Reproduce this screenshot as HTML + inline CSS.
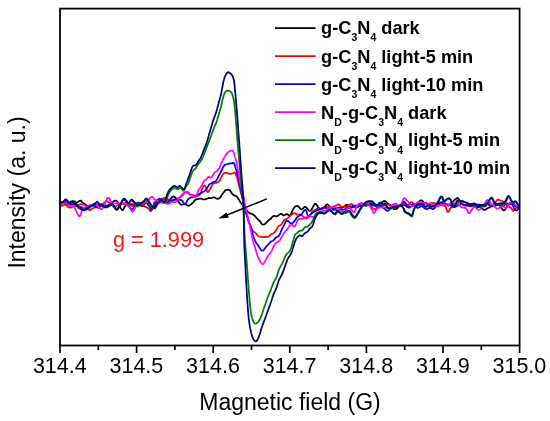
<!DOCTYPE html>
<html><head><meta charset="utf-8"><title>EPR spectra</title>
<style>
html,body{margin:0;padding:0;background:#fff;}
svg{display:block;font-family:"Liberation Sans",Arial,sans-serif;}
.ax text{font-size:21.5px;fill:#000;}
.lg{font-size:18.2px;font-weight:bold;fill:#000;}
.sb{font-size:10.5px;}
.cv path{fill:none;stroke-width:1.75;stroke-linejoin:round;stroke-linecap:round;}
</style></head><body>
<svg width="550" height="421" viewBox="0 0 550 421">
<rect width="550" height="421" fill="#fff"/>
<g class="cv">
<path d="M60.0,205.2L60.4,204.5L60.9,203.7L61.6,202.9L62.3,202.4L63.0,202.2L63.7,202.5L64.5,203.1L65.4,203.8L66.2,204.5L67.0,204.8L67.8,204.6L68.6,204.0L69.4,203.2L70.2,202.3L71.0,201.7L71.9,201.4L72.8,201.2L73.6,201.2L74.4,201.3L75.2,201.8L76.0,202.2L76.7,202.5L77.5,202.3L78.3,201.7L79.2,201.1L80.0,200.7L80.7,200.7L81.3,201.1L81.8,201.7L82.3,202.3L83.0,202.9L83.7,203.3L84.5,203.9L85.3,204.4L86.2,205.1L87.0,205.8L87.8,206.3L88.6,206.6L89.4,206.6L90.2,206.3L91.0,205.9L91.8,205.3L92.6,204.6L93.4,204.0L94.2,203.8L95.0,204.2L95.8,204.9L96.6,205.7L97.4,206.1L98.2,206.0L99.0,205.7L99.8,205.3L100.6,204.9L101.4,204.7L102.2,204.6L103.0,204.8L103.8,205.2L104.6,205.7L105.4,206.1L106.2,206.3L107.0,206.2L107.8,205.8L108.6,205.3L109.4,204.7L110.2,204.0L111.0,203.4L111.7,202.8L112.5,202.2L113.3,201.6L114.1,201.1L114.8,200.7L115.5,200.6L116.1,200.7L116.7,201.1L117.3,201.8L117.9,202.7L118.4,203.6L119.0,204.5L119.6,205.5L120.1,206.6L120.6,207.8L121.2,208.9L121.7,209.7L122.3,210.1L122.9,209.9L123.5,209.1L124.1,207.9L124.7,206.7L125.4,205.6L126.0,205.1L126.8,204.9L127.6,204.9L128.4,204.8L129.2,204.6L130.0,204.4L130.8,204.3L131.6,204.2L132.4,204.4L133.2,204.6L134.0,204.8L134.8,204.9L135.6,204.6L136.4,203.8L137.2,203.0L138.0,202.6L138.8,202.8L139.6,203.7L140.4,204.8L141.2,205.7L142.0,206.2L142.8,206.1L143.6,205.4L144.4,204.3L145.2,203.2L146.0,202.6L146.8,203.0L147.6,204.0L148.3,205.2L149.1,206.0L150.0,206.2L150.8,206.0L151.6,206.0L152.5,206.1L153.3,206.4L154.2,206.4L155.0,206.1L155.7,205.5L156.3,204.8L157.0,204.0L157.6,203.2L158.3,202.4L158.9,201.7L159.6,200.9L160.5,199.9L161.5,199.1L162.4,198.7L163.4,198.7L164.3,198.8L165.2,199.0L166.2,199.3L167.1,199.6L168.1,199.9L169.0,200.0L169.8,199.6L170.5,198.9L171.3,198.0L172.1,197.2L172.8,196.6L173.5,196.4L174.3,196.7L175.1,197.3L175.9,198.2L176.7,199.2L177.4,200.1L178.1,201.0L178.7,201.9L179.2,202.8L179.8,203.6L180.5,204.2L181.4,204.6L182.3,204.6L183.3,204.3L184.3,204.0L185.2,204.1L186.2,204.6L187.1,205.3L188.1,205.7L189.0,205.6L189.8,205.2L190.6,204.6L191.4,204.1L192.1,203.5L192.8,202.9L193.4,202.2L194.0,201.5L194.5,200.7L195.1,200.1L195.9,199.6L196.7,199.4L197.6,199.2L198.5,199.0L199.5,198.7L200.4,198.5L201.3,198.6L202.3,199.0L203.3,199.4L204.2,199.5L205.1,199.4L205.9,199.2L206.8,198.8L207.5,198.5L208.2,198.2L209.0,198.1L209.8,198.2L210.7,198.2L211.6,198.0L212.4,197.7L213.2,197.4L214.2,197.4L215.1,197.8L216.0,198.3L216.9,198.7L217.9,198.8L218.9,198.5L219.7,198.0L220.4,197.3L220.9,196.4L221.4,195.5L222.0,194.6L222.7,193.7L223.4,192.8L224.0,191.9L224.6,191.3L225.2,190.4L226.0,190.0L226.7,189.8L227.6,189.7L228.6,189.8L229.5,190.1L230.0,190.6L230.6,191.3L231.1,192.0L231.6,192.9L232.2,193.7L232.8,194.4L233.5,195.0L234.3,195.4L235.2,195.8L236.1,196.1L236.9,196.7L237.7,197.7L238.3,198.7L239.0,199.8L239.6,200.9L240.1,201.9L240.7,202.7L241.3,203.4L241.8,204.1L242.4,204.7L242.9,205.3L243.4,206.0L243.9,206.6L244.5,207.3L245.1,208.1L245.6,208.8L246.2,209.6L246.8,210.5L247.4,211.3L248.0,212.0L248.7,212.6L249.3,213.0L250.0,213.4L250.8,213.7L251.6,213.9L252.5,214.3L253.3,214.8L254.2,215.4L255.0,216.2L255.7,216.9L256.4,217.7L257.0,218.4L257.7,219.1L258.2,219.7L258.8,220.2L259.3,220.7L259.8,221.1L260.5,222.0L261.1,223.0L261.6,223.8L262.3,224.4L262.9,224.5L263.5,224.5L264.2,224.3L265.0,223.9L265.7,223.3L266.4,222.6L267.2,221.7L268.1,220.8L268.9,220.1L269.7,219.5L270.5,219.0L271.1,218.5L271.6,217.8L272.1,217.2L272.6,216.6L273.1,216.2L273.7,215.9L274.5,215.9L275.3,216.1L276.2,216.3L277.0,216.2L277.8,215.9L278.5,215.4L279.2,214.8L279.9,214.3L280.5,213.9L281.1,213.8L281.8,214.1L282.4,214.7L282.9,215.2L283.6,215.5L284.3,215.2L285.2,214.8L286.0,214.3L286.8,214.1L287.6,214.3L288.4,214.9L289.3,215.5L290.1,215.4L290.5,215.0L290.9,214.3L291.3,213.5L291.7,212.5L292.1,211.4L292.6,210.4L293.0,209.5L293.4,208.8L294.0,208.0L294.6,207.2L295.2,206.7L295.8,206.3L296.4,206.0L297.0,205.8L297.6,205.9L298.2,206.3L298.8,206.9L299.5,207.7L300.1,208.5L300.8,209.2L301.5,209.4L302.3,209.2L303.1,208.4L304.0,207.5L304.8,206.9L305.6,206.9L306.4,207.6L307.2,208.6L308.0,209.6L308.7,210.3L309.5,210.8L310.3,210.8L310.8,210.4L311.4,209.7L311.9,208.8L312.5,207.9L313.0,206.8L313.6,205.8L314.1,204.9L314.6,204.2L315.1,203.8L315.7,203.8L316.2,204.2L316.7,204.9L317.3,205.7L317.8,206.7L318.3,207.5L318.9,208.1L319.8,208.7L320.8,209.0L321.8,209.0L322.8,208.6L323.7,208.0L324.4,207.3L325.0,206.4L325.7,205.5L326.3,204.8L326.9,204.3L327.5,204.3L328.1,204.8L328.7,205.5L329.3,206.3L330.0,207.2L330.6,207.8L331.3,208.1L332.0,208.1L332.8,208.0L333.6,208.0L334.4,208.1L335.2,208.3L336.0,208.3L336.8,208.2L337.6,207.9L338.4,207.6L339.3,207.5L340.1,207.6L341.0,207.7L341.9,207.8L342.8,207.5L343.8,206.9L344.7,206.1L345.7,205.3L346.6,204.9L347.5,205.0L348.4,205.6L349.3,206.3L350.2,207.0L351.1,207.5L352.0,207.5L352.9,207.2L353.7,206.7L354.5,206.2L355.3,205.9L356.2,205.6L357.0,205.5L357.8,205.4L358.7,205.2L359.5,204.9L360.3,204.5L361.2,204.2L362.0,204.0L362.8,204.2L363.7,204.6L364.5,205.2L365.3,205.6L366.2,205.8L367.0,205.6L367.8,205.1L368.6,204.5L369.4,203.8L370.2,203.4L371.1,203.4L372.0,203.6L372.9,204.0L373.8,204.4L374.7,204.8L375.7,205.1L376.7,205.3L377.6,205.4L378.5,205.2L379.3,204.9L380.0,204.3L380.8,203.6L381.5,202.9L382.2,202.2L382.9,201.6L383.6,201.2L384.2,200.9L384.9,201.0L385.6,201.4L386.2,201.9L386.8,202.6L387.4,203.2L388.0,203.7L388.8,204.2L389.6,204.7L390.4,205.4L391.2,206.4L392.0,207.5L392.7,208.4L393.5,209.0L394.3,209.2L395.1,209.1L395.8,209.0L396.5,208.8L397.1,208.5L397.7,208.0L398.3,207.3L398.8,206.6L399.4,205.9L400.0,205.4L400.8,205.0L401.6,204.7L402.4,204.6L403.2,204.6L404.0,204.8L404.8,205.3L405.6,205.9L406.4,206.5L407.2,206.9L408.0,207.0L408.8,206.8L409.6,206.4L410.4,205.9L411.2,205.3L412.0,204.6L412.9,204.1L413.8,204.2L414.6,204.7L415.5,205.2L416.1,205.2L416.7,204.8L417.3,204.0L417.9,203.1L418.5,202.2L419.2,201.4L420.0,200.8L420.9,200.3L421.7,200.4L422.6,201.2L423.5,202.2L424.2,202.8L425.0,203.1L425.8,203.1L426.5,203.2L427.3,203.6L428.0,204.4L428.8,205.5L429.6,206.4L430.4,206.8L431.2,206.7L432.0,206.3L432.8,205.6L433.6,204.8L434.4,204.1L435.2,203.6L436.0,203.6L436.8,203.9L437.6,204.3L438.4,204.6L439.2,204.9L440.0,204.9L440.8,204.7L441.6,204.4L442.4,204.0L443.2,203.7L444.0,203.5L444.8,203.8L445.6,204.3L446.4,204.8L447.2,205.3L448.0,205.4L448.8,205.2L449.5,204.8L450.3,204.2L451.1,203.4L452.0,202.6L452.6,202.1L453.2,201.4L453.9,200.7L454.6,200.0L455.3,199.4L456.0,198.8L456.6,198.3L457.2,198.0L457.8,198.2L458.4,198.6L458.9,199.4L459.4,200.3L459.9,201.2L460.5,202.1L461.0,202.7L461.8,203.4L462.6,204.1L463.4,204.6L464.2,204.8L465.0,204.9L465.8,204.8L466.6,204.5L467.4,204.3L468.2,204.0L469.0,203.9L469.8,204.1L470.6,204.4L471.4,205.0L472.2,205.7L473.0,206.1L473.8,206.1L474.6,205.7L475.4,205.0L476.2,204.5L477.0,204.5L477.7,204.8L478.4,205.4L479.1,206.1L479.8,206.7L480.5,207.1L481.2,207.6L481.9,208.3L482.6,209.0L483.4,209.6L484.1,210.0L484.9,209.9L485.6,209.5L486.4,209.0L487.2,208.4L488.0,208.0L488.8,207.7L489.7,207.4L490.6,206.8L491.5,206.3L492.3,205.7L493.1,205.2L493.8,204.7L494.5,204.3L495.3,204.2L496.0,204.3L496.8,204.5L497.6,204.8L498.4,205.0L499.2,205.3L500.0,205.9L500.7,206.8L501.4,207.9L502.1,209.1L502.7,209.9L503.4,210.4L504.1,210.3L504.8,209.9L505.4,209.1L506.1,208.1L506.7,207.1L507.3,206.2L508.0,205.5L508.8,204.8L509.6,204.2L510.4,203.6L511.2,203.2L512.0,203.1L512.8,203.4L513.7,204.3L514.5,205.4L515.3,206.2L516.0,206.5L517.1,206.1L518.1,205.6L518.8,205.5" stroke="#000000"/>
<path d="M60.0,205.2L60.6,205.4L61.5,205.6L62.5,205.6L63.6,205.2L64.8,204.8L65.6,204.8L66.4,205.3L67.3,206.2L68.2,207.0L69.1,207.5L70.0,207.7L70.9,207.6L71.6,207.3L72.6,206.8L73.6,206.4L74.4,206.2L75.2,206.2L76.0,206.1L76.8,205.9L77.6,205.6L78.4,205.1L79.2,204.7L80.0,204.3L80.9,204.1L81.9,204.1L82.8,204.3L83.7,204.6L84.4,204.9L85.1,205.4L85.6,206.0L86.2,206.9L86.6,207.4L87.1,207.9L87.6,208.5L88.2,209.0L88.7,209.5L89.3,209.9L89.8,210.1L90.4,210.0L91.0,209.6L91.6,209.1L92.3,208.5L93.0,208.2L93.6,208.0L94.3,207.8L95.1,207.4L95.9,207.0L96.6,206.4L97.3,205.6L98.0,205.0L99.0,204.2L99.8,204.0L100.6,204.1L101.5,204.2L102.2,204.1L103.0,203.7L103.7,203.1L104.5,202.5L105.3,202.0L106.2,201.7L107.1,201.7L108.1,202.0L109.1,202.4L110.0,202.9L110.8,203.3L111.7,203.8L112.4,204.6L113.2,205.6L114.0,206.5L114.8,207.0L115.6,206.8L116.4,206.3L117.2,205.5L118.0,204.9L118.8,204.5L119.6,204.1L120.4,203.8L121.2,203.5L122.0,203.5L122.8,203.7L123.6,204.0L124.4,204.4L125.2,204.8L126.0,205.2L126.9,205.3L127.8,205.1L128.7,204.7L129.5,204.5L130.3,204.8L130.9,205.4L131.7,206.0L132.5,206.0L133.1,205.5L133.8,204.8L134.6,203.9L135.3,203.2L136.1,202.9L136.8,203.0L137.6,203.4L138.5,203.7L139.3,203.8L140.1,203.6L141.0,203.7L141.8,204.1L142.6,204.9L143.5,205.8L144.4,206.5L145.2,206.9L145.9,207.2L146.6,207.4L147.3,207.8L147.9,208.2L148.5,208.6L149.0,209.1L149.8,210.2L150.5,211.1L151.4,210.8L151.8,210.2L152.1,209.3L152.5,208.1L153.0,206.7L153.4,205.3L153.8,204.0L154.2,202.8L154.6,202.0L155.0,201.4L155.8,201.4L156.5,202.2L157.2,203.3L158.0,203.8L158.5,203.6L159.0,203.1L159.5,202.4L160.0,201.6L160.6,200.9L161.2,200.3L162.0,199.7L162.9,198.9L163.9,198.1L164.9,197.7L165.8,197.8L166.7,198.2L167.6,199.0L168.6,199.9L169.5,200.4L170.4,200.2L171.3,199.8L172.2,199.5L173.1,199.6L174.1,199.9L175.1,199.8L175.9,199.4L176.8,198.8L177.7,198.2L178.6,197.8L179.5,197.5L180.4,197.2L181.2,196.7L182.1,195.9L182.9,195.0L183.6,194.1L184.4,193.2L185.1,192.5L185.9,192.2L186.8,192.4L187.7,192.9L188.7,193.7L189.6,194.5L190.5,194.9L191.4,194.9L192.3,194.9L193.3,195.1L194.2,195.7L195.1,196.2L196.1,196.4L197.1,196.2L198.0,195.8L199.0,195.3L199.8,194.6L200.2,194.0L200.6,193.2L200.9,192.3L201.3,191.3L201.6,190.3L201.9,189.4L202.2,188.4L202.5,187.7L202.8,187.1L203.6,186.0L204.4,185.6L205.2,186.0L205.6,186.7L206.0,187.8L206.4,189.1L206.7,190.4L207.1,191.5L207.5,192.1L208.1,192.2L208.6,191.5L209.2,190.6L209.8,189.6L210.2,188.9L210.7,188.0L211.2,187.0L211.7,185.9L212.2,185.0L212.8,184.1L213.6,183.4L214.4,183.0L215.3,182.9L216.2,182.9L217.0,182.7L217.7,182.4L218.4,181.9L219.0,181.3L219.6,180.5L220.2,179.5L220.6,178.7L221.1,177.8L221.5,176.8L222.0,175.8L222.4,174.9L222.9,174.1L223.4,173.5L224.2,173.0L225.0,172.8L225.9,172.7L226.8,172.8L227.7,173.1L228.6,173.5L229.5,173.8L230.4,173.9L231.2,173.9L232.0,173.7L232.9,173.3L233.7,172.8L234.5,172.5L235.2,172.8L235.5,173.3L235.8,173.9L236.1,174.6L236.4,175.4L236.7,176.4L237.0,177.5L237.3,178.7L237.5,179.4L237.7,180.1L237.9,180.9L238.1,181.7L238.4,182.6L238.6,183.5L238.8,184.5L239.1,185.4L239.3,186.4L239.5,187.4L239.8,188.4L240.0,189.4L240.3,190.4L240.5,191.3L240.8,192.3L241.0,193.3L241.3,194.3L241.6,195.3L241.9,196.2L242.2,197.0L242.4,197.9L242.7,198.7L243.0,199.4L243.3,200.2L243.5,201.0L243.8,201.8L244.0,202.5L244.3,203.4L244.5,204.2L244.7,205.1L244.9,206.0L245.1,206.9L245.3,207.9L245.6,208.9L245.8,209.9L246.0,210.9L246.2,211.9L246.5,213.0L246.7,214.0L247.0,215.1L247.2,216.2L247.5,217.3L247.8,218.3L248.1,219.3L248.4,220.3L248.7,221.2L249.0,222.1L249.3,222.9L249.6,223.8L249.9,224.6L250.3,225.5L250.7,226.5L251.2,227.6L251.7,228.7L252.2,229.7L252.7,230.5L253.2,231.2L253.7,231.6L254.3,232.0L254.9,232.3L255.5,232.8L256.3,233.8L257.2,235.0L258.2,236.0L259.1,236.4L260.1,236.6L261.0,236.8L261.9,237.0L262.8,237.2L263.8,237.2L264.8,236.9L265.8,236.7L266.7,236.8L267.6,237.0L268.5,236.8L269.3,236.2L270.1,235.3L270.9,234.5L271.8,233.9L272.6,233.6L273.4,233.2L274.2,232.7L274.8,232.1L275.3,231.4L275.9,230.5L276.5,229.6L277.1,228.5L277.6,227.5L278.2,226.6L278.8,226.0L279.3,225.5L279.9,225.3L280.5,225.1L281.2,224.8L281.8,224.0L282.4,223.0L283.1,221.8L283.7,220.7L284.3,220.0L285.0,219.6L285.6,219.3L286.3,219.1L287.0,218.7L287.7,218.1L288.4,217.4L289.2,216.7L289.9,216.1L290.6,215.5L291.3,214.9L292.2,214.1L293.2,213.4L294.1,213.1L295.1,213.4L296.1,214.1L297.0,214.7L297.8,214.7L298.7,214.5L299.5,214.4L300.3,214.6L301.1,215.1L301.9,215.6L302.7,216.1L303.5,216.7L304.3,217.3L305.1,217.8L305.9,218.2L306.7,218.3L307.5,218.2L308.1,217.8L308.7,217.3L309.4,216.5L310.0,215.6L310.7,214.5L311.3,213.4L312.0,212.3L312.6,211.5L313.2,210.9L314.0,210.4L314.8,210.0L315.5,209.7L316.3,209.3L317.1,208.9L317.9,208.8L318.8,209.2L319.8,209.6L320.8,209.6L321.8,209.0L322.7,208.2L323.7,207.7L324.6,207.5L325.5,207.3L326.4,207.1L327.3,206.8L328.1,206.9L329.0,207.3L329.9,207.8L330.7,208.1L331.6,207.8L332.4,207.2L333.2,206.5L334.0,206.2L334.8,206.0L335.6,205.7L336.3,205.4L337.1,204.9L337.8,204.6L338.5,204.4L339.3,204.7L340.0,205.3L340.6,206.1L341.3,206.7L342.1,206.9L342.9,206.7L343.8,206.5L344.8,206.6L345.7,206.8L346.6,206.8L347.5,206.6L348.3,206.0L349.2,205.2L350.1,204.5L351.0,204.0L351.8,204.1L352.6,204.7L353.5,205.5L354.3,206.3L355.2,206.7L356.0,206.7L356.8,206.5L357.7,206.1L358.5,205.7L359.3,205.2L360.2,204.8L361.0,204.4L361.8,204.2L362.7,204.1L363.6,204.3L364.4,204.5L365.2,204.6L366.0,204.8L366.9,204.9L367.6,205.1L368.4,205.2L369.2,205.4L370.0,205.7L370.8,206.2L371.6,207.0L372.4,207.9L373.3,208.6L374.1,209.1L374.8,209.2L375.6,209.0L376.3,208.5L377.0,207.9L377.7,207.5L378.5,207.3L379.4,207.3L380.3,207.2L381.2,206.7L382.1,206.2L383.0,205.8L383.8,205.6L384.6,205.5L385.4,205.2L386.2,204.8L387.0,204.5L387.8,204.4L388.6,204.7L389.4,205.2L390.2,205.6L391.0,205.6L391.8,205.2L392.6,204.7L393.4,204.5L394.2,204.8L395.0,205.2L395.8,205.6L396.6,205.6L397.4,205.3L398.2,205.0L399.0,205.0L399.8,205.1L400.6,205.2L401.4,205.0L402.2,204.7L403.0,204.3L403.8,204.1L404.6,203.9L405.3,203.9L406.1,204.1L407.0,204.6L407.8,205.0L408.5,205.0L409.4,204.3L410.2,203.2L411.0,202.2L411.9,202.0L412.6,202.5L413.4,203.3L414.2,204.0L415.0,204.3L415.8,204.4L416.6,204.5L417.4,204.9L418.3,205.3L419.2,205.6L420.1,205.6L421.1,205.2L422.0,204.8L422.9,204.5L423.7,204.2L424.7,203.9L425.5,203.7L426.4,203.7L427.2,204.0L428.0,204.5L428.9,204.8L429.8,204.8L430.8,204.2L431.7,203.5L432.6,203.0L433.5,202.9L434.4,203.3L435.3,204.2L436.1,205.1L437.0,205.7L437.8,205.5L438.6,204.7L439.4,203.9L440.2,203.5L441.0,203.9L441.7,204.7L442.5,205.4L443.3,205.7L444.0,205.8L444.8,206.0L445.4,206.6L446.0,207.8L446.6,209.2L447.1,210.6L447.6,211.6L448.1,212.0L448.7,211.6L449.4,210.5L450.0,209.1L450.8,208.0L451.4,207.4L452.1,207.0L452.8,206.6L453.6,206.1L454.3,205.6L455.0,205.2L455.8,204.6L456.6,204.1L457.4,203.5L458.2,202.8L459.0,201.9L459.8,201.3L460.6,201.4L461.4,202.2L462.2,203.5L463.0,204.7L463.8,205.3L464.6,205.4L465.4,205.4L466.2,205.4L467.0,205.7L467.8,206.0L468.6,205.8L469.4,205.3L470.2,204.7L471.0,204.2L471.8,204.1L472.6,204.3L473.4,204.8L474.2,205.4L475.0,205.9L475.8,206.1L476.6,205.8L477.4,205.3L478.2,204.7L479.0,204.4L479.8,204.6L480.6,205.1L481.4,205.7L482.2,206.2L483.0,206.3L483.8,205.9L484.6,205.2L485.4,204.3L486.2,203.7L487.0,203.5L487.8,203.9L488.6,204.7L489.4,205.6L490.2,206.1L491.0,206.1L491.7,205.8L492.3,205.3L493.0,204.7L493.7,204.1L494.3,203.4L495.0,202.6L495.8,201.6L496.6,200.5L497.5,199.9L498.3,199.7L499.1,199.9L499.9,200.2L500.7,200.5L501.4,200.8L502.2,201.1L503.0,201.6L503.8,202.2L504.6,203.0L505.4,203.8L506.2,204.7L507.0,205.5L507.7,206.1L508.5,206.6L509.3,207.0L510.1,207.4L510.8,207.8L511.4,208.3L512.0,209.1L512.4,210.0L512.7,210.8L513.2,211.0L513.8,210.5L514.5,209.6L515.3,208.6L516.0,208.0L516.8,207.7L517.6,207.4L518.3,207.0L518.8,206.6" stroke="#ff0000"/>
<path d="M60.0,204.7L60.5,204.3L61.3,203.8L62.2,203.4L63.1,202.8L64.0,202.2L64.8,201.8L65.6,201.9L66.4,202.3L67.2,203.0L68.0,203.6L68.8,204.0L69.6,204.3L70.4,204.5L71.2,204.7L72.0,204.9L72.8,204.8L73.6,204.5L74.4,204.1L75.2,203.9L76.0,204.0L76.8,204.7L77.6,205.6L78.4,206.5L79.2,207.0L80.0,207.1L80.8,207.0L81.6,207.1L82.4,207.4L83.2,207.9L84.0,208.3L84.8,208.6L85.6,208.7L86.4,208.4L87.2,207.7L88.0,207.0L88.8,206.3L89.5,205.8L90.3,205.5L91.1,205.5L92.0,205.5L92.8,205.7L93.6,205.9L94.5,206.3L95.5,206.8L96.4,207.3L97.2,207.7L98.0,207.7L98.8,207.5L99.5,207.2L100.1,206.7L100.7,206.3L101.4,205.9L102.0,205.6L102.8,205.2L103.6,205.0L104.4,204.9L105.2,205.1L106.0,205.5L106.8,205.7L107.6,205.6L108.5,205.2L109.3,204.8L110.0,204.4L110.8,204.4L111.5,204.7L112.2,205.2L113.0,205.9L113.7,206.6L114.3,207.5L115.0,208.6L115.7,209.4L116.4,209.7L116.9,209.6L117.4,209.3L117.9,208.7L118.5,208.1L119.0,207.3L119.5,206.6L120.0,205.8L120.6,204.8L121.1,203.7L121.7,202.5L122.2,201.4L122.7,200.5L123.2,199.9L123.9,199.8L124.6,200.2L125.3,201.0L126.0,201.8L126.6,202.5L127.2,203.4L127.8,204.4L128.4,205.4L129.0,206.3L129.8,207.4L130.6,208.4L131.4,209.1L132.3,209.2L133.0,208.7L133.7,207.7L134.5,206.4L135.2,205.2L136.0,204.3L136.8,204.0L137.6,203.8L138.4,203.7L139.2,203.5L140.0,203.1L140.8,202.8L141.6,202.5L142.4,202.3L143.2,202.0L144.0,201.6L144.9,200.7L145.8,199.7L146.6,199.4L147.5,200.2L147.9,200.9L148.2,201.9L148.6,203.1L149.0,204.3L149.4,205.6L149.8,206.7L150.2,207.8L150.5,208.6L150.9,209.2L151.3,209.5L151.8,209.5L152.2,209.1L152.7,208.4L153.1,207.6L153.6,206.6L154.0,205.7L154.5,204.8L155.0,204.0L155.7,203.1L156.5,202.0L157.3,200.7L158.1,199.6L158.9,198.9L159.6,198.7L160.3,199.3L160.9,200.4L161.4,201.5L162.0,202.4L162.7,202.8L163.5,202.7L164.3,202.5L165.2,202.6L166.1,202.8L167.0,202.7L167.8,202.3L168.6,201.5L169.4,200.9L170.2,200.8L171.1,201.0L172.0,201.2L172.8,200.8L173.7,199.9L174.7,199.2L175.6,199.2L176.5,199.7L177.3,200.0L178.1,200.1L179.2,199.8L180.2,199.7L181.1,199.9L182.0,200.5L182.7,201.2L183.3,202.2L184.0,203.2L184.5,203.9L185.1,204.2L185.7,203.7L186.2,202.8L186.7,201.6L187.4,200.3L188.0,199.5L188.6,198.8L189.3,198.3L189.9,197.9L190.6,197.7L191.3,197.4L192.1,197.2L192.8,197.0L193.5,196.8L194.3,196.5L195.1,196.0L196.0,195.5L196.9,195.0L197.9,194.4L198.9,194.0L199.8,193.6L200.6,193.2L201.4,192.8L202.2,192.4L203.0,192.0L203.7,191.6L204.4,191.1L205.3,190.4L206.0,189.7L206.7,188.8L207.4,187.7L207.8,186.9L208.3,186.0L208.7,185.2L209.1,184.6L209.6,184.1L210.1,183.7L210.6,183.5L211.4,183.3L212.2,182.8L213.1,182.3L214.0,181.9L214.9,181.6L215.4,181.3L216.0,180.8L216.5,180.1L217.1,179.2L217.6,178.1L218.1,176.9L218.7,175.8L219.2,174.8L219.6,174.1L220.1,173.3L220.5,172.6L220.9,171.8L221.4,171.0L221.8,170.1L222.2,169.1L222.6,168.2L223.0,167.4L223.4,166.6L224.3,165.4L225.1,164.8L225.8,164.5L226.6,164.3L227.4,164.0L228.2,163.8L229.1,163.6L229.9,163.6L230.8,163.4L231.8,163.2L232.7,162.9L233.5,163.0L233.9,163.3L234.2,163.7L234.5,164.4L234.8,165.3L235.2,166.7L235.4,167.3L235.6,168.0L235.8,168.7L236.1,169.5L236.3,170.3L236.6,171.2L236.8,172.1L237.1,173.1L237.4,174.1L237.6,175.0L237.9,176.1L238.1,177.1L238.4,178.1L238.6,178.9L238.8,179.8L239.0,180.7L239.2,181.6L239.4,182.5L239.6,183.4L239.8,184.4L240.0,185.4L240.2,186.4L240.4,187.4L240.6,188.4L240.8,189.4L241.0,190.4L241.2,191.4L241.4,192.4L241.6,193.4L241.8,194.4L242.0,195.3L242.2,196.3L242.4,197.2L242.5,198.2L242.7,199.1L242.9,200.0L243.1,200.9L243.3,201.9L243.5,202.7L243.7,203.6L243.9,204.5L244.0,205.3L244.2,206.2L244.4,207.0L244.6,207.7L244.8,208.5L245.1,209.5L245.3,210.6L245.6,211.5L245.9,212.5L246.1,213.4L246.4,214.4L246.7,215.3L246.9,216.1L247.2,217.0L247.5,217.8L247.7,218.6L248.0,219.4L248.3,220.4L248.7,221.2L249.0,222.1L249.3,222.9L249.7,223.8L250.0,224.7L250.3,225.6L250.7,226.7L251.0,227.8L251.4,229.0L251.7,230.0L252.0,231.1L252.2,232.1L252.5,233.2L252.8,234.3L253.1,235.3L253.4,236.3L253.7,237.2L254.0,238.1L254.3,239.0L254.6,239.7L254.9,240.4L255.2,241.0L255.7,241.9L256.1,242.7L256.6,243.4L257.1,244.0L257.6,244.6L258.1,245.3L258.5,246.0L259.0,246.7L259.7,247.9L260.4,249.1L261.1,250.1L261.9,250.7L262.8,250.7L263.3,250.3L263.9,249.7L264.6,248.9L265.2,247.9L265.9,247.0L266.5,246.2L267.2,245.5L267.9,244.9L268.5,244.2L269.1,243.5L269.8,242.8L270.4,242.1L271.1,241.6L271.7,241.2L272.4,241.0L273.0,240.7L273.6,240.2L274.2,239.5L274.9,238.6L275.6,237.8L276.3,237.3L277.0,237.0L277.7,236.8L278.3,236.5L279.0,235.7L279.5,234.8L280.0,233.7L280.5,232.5L281.0,231.2L281.5,230.1L282.0,229.0L282.4,228.1L282.9,227.3L283.3,226.6L283.7,225.9L284.3,224.9L284.7,223.8L285.1,222.8L285.6,222.0L286.0,221.3L286.6,220.8L287.3,220.7L288.0,221.1L288.8,221.7L289.6,222.5L290.4,223.2L291.3,223.5L291.9,223.4L292.5,223.1L293.2,222.6L293.8,221.9L294.5,221.1L295.1,220.1L295.8,219.1L296.4,218.2L297.0,217.4L297.7,216.8L298.5,216.3L299.2,215.9L299.9,215.5L300.5,215.0L301.2,214.4L301.8,213.8L302.6,212.8L303.4,211.6L304.2,210.6L304.9,210.0L305.6,209.9L306.0,210.3L306.3,211.0L306.6,212.0L306.9,213.1L307.2,214.2L307.6,215.1L308.0,215.8L308.4,216.1L309.0,215.9L309.6,215.4L310.2,214.8L310.9,214.2L311.6,213.5L312.4,213.0L313.2,212.5L313.9,212.1L314.7,211.6L315.5,211.1L316.4,210.7L317.2,210.3L318.1,209.9L318.9,209.5L319.8,209.1L320.7,208.8L321.6,208.4L322.5,208.0L323.4,207.7L324.3,207.6L325.2,207.7L326.1,208.2L327.0,209.0L327.9,209.5L328.8,209.4L329.8,208.7L330.7,208.2L331.6,208.5L332.5,209.2L333.3,209.8L334.0,209.9L335.0,209.7L335.8,209.7L336.5,210.1L337.2,210.7L338.0,211.2L338.8,211.2L339.6,210.6L340.3,209.9L341.1,209.3L342.0,209.3L342.8,209.7L343.6,209.9L344.4,209.6L345.2,208.9L346.1,208.1L347.0,207.9L347.8,208.0L348.7,208.2L349.6,207.9L350.4,207.3L351.3,206.6L352.2,206.2L353.0,206.1L353.9,206.4L354.7,206.8L355.6,207.3L356.4,207.6L357.2,207.5L358.0,207.1L358.8,206.4L359.7,206.0L360.5,206.0L361.3,206.0L362.2,206.0L363.0,205.7L363.8,205.3L364.7,204.7L365.6,204.2L366.4,203.8L367.2,203.5L368.0,203.4L368.9,203.4L369.7,203.7L370.4,204.2L371.2,204.8L372.0,205.2L372.8,205.4L373.6,205.6L374.4,205.7L375.2,206.0L376.0,206.5L376.8,206.8L377.6,206.7L378.4,206.2L379.2,205.8L380.0,205.5L380.6,205.6L381.2,206.0L381.8,206.5L382.3,207.1L383.0,207.7L383.7,208.2L384.5,208.8L385.5,209.5L386.4,210.4L387.4,210.9L388.4,210.7L389.2,210.0L389.9,209.0L390.6,208.1L391.2,207.4L391.8,206.9L392.4,206.6L393.0,206.6L393.8,206.6L394.6,206.8L395.4,206.9L396.2,207.0L397.0,206.9L397.8,206.7L398.6,206.4L399.4,206.2L400.2,205.8L401.0,205.3L401.7,204.4L402.4,203.2L403.1,202.2L403.8,201.7L404.6,202.0L405.2,202.7L405.9,203.8L406.5,205.0L407.2,206.1L407.9,207.0L408.6,207.6L409.2,207.8L410.0,207.5L410.7,206.7L411.5,205.8L412.2,205.0L413.0,204.7L413.8,204.9L414.7,205.6L415.6,206.5L416.5,207.3L417.4,207.8L418.3,207.7L419.2,207.3L420.2,206.7L421.1,206.3L422.0,206.3L422.8,206.7L423.6,207.3L424.4,208.0L425.1,208.6L425.8,208.9L426.5,209.1L427.4,209.0L428.1,208.5L428.8,208.0L429.5,207.8L430.1,207.8L430.7,208.1L431.3,208.5L432.0,208.8L432.6,209.1L433.2,209.0L433.7,208.8L434.3,208.4L434.9,207.7L435.5,206.8L436.0,205.9L436.8,204.9L437.5,204.0L438.2,203.4L439.0,203.0L439.8,202.7L440.7,202.4L441.6,202.1L442.6,202.1L443.3,202.4L444.1,203.0L444.9,203.6L445.7,204.0L446.5,204.3L447.2,204.4L448.2,204.6L449.1,204.8L450.0,205.1L451.0,205.6L451.9,206.2L452.8,206.7L453.7,206.9L454.6,206.8L455.4,206.6L456.2,206.4L456.9,206.1L457.6,205.8L458.3,205.3L459.0,204.8L459.9,204.2L460.8,203.9L461.6,203.9L462.6,204.4L463.4,204.9L464.3,205.3L465.2,205.4L466.1,205.5L467.0,205.4L467.8,205.1L468.6,204.7L469.4,204.3L470.2,204.0L471.0,203.9L471.8,204.2L472.6,204.8L473.4,205.4L474.2,205.7L475.0,205.8L475.8,205.5L476.6,205.1L477.4,204.9L478.2,204.8L479.0,204.9L479.8,204.9L480.6,205.0L481.4,205.1L482.2,205.2L483.0,205.2L483.8,204.9L484.6,204.3L485.4,203.7L486.2,203.2L487.0,203.0L487.8,203.2L488.6,203.7L489.3,204.4L490.1,205.2L491.0,205.9L492.0,206.3L493.0,206.4L494.0,206.1L495.0,205.8L495.9,205.5L496.8,205.1L497.5,204.6L498.2,204.1L499.0,203.9L499.7,204.2L500.5,204.9L501.4,205.6L502.2,206.1L503.0,206.1L503.8,205.6L504.6,204.8L505.4,204.1L506.2,203.6L507.0,203.4L507.9,203.5L508.8,203.7L509.7,203.9L510.6,203.8L511.4,203.7L511.9,204.0L512.4,204.6L512.9,205.4L513.3,206.4L513.7,207.4L514.1,208.3L514.8,209.4L515.5,210.2L516.2,210.6L516.8,210.5L517.4,209.9L518.0,209.0L518.5,208.0L518.8,207.4" stroke="#0000ff"/>
<path d="M60.0,205.3L60.5,205.0L61.6,204.4L62.2,204.0L62.9,203.6L63.8,203.2L64.6,203.0L65.5,203.0L66.2,203.1L66.9,203.4L67.5,203.9L68.0,204.6L68.6,205.2L69.2,205.6L69.8,205.9L70.6,205.9L71.5,205.9L72.3,206.0L73.2,206.3L73.9,206.7L74.4,207.3L74.9,208.1L75.3,209.0L75.7,210.0L76.2,210.9L76.6,211.9L77.2,213.1L77.8,214.3L78.3,215.4L78.9,216.1L79.4,216.4L79.9,216.0L80.4,215.2L80.8,214.1L81.2,213.1L81.5,212.1L81.7,211.1L81.8,210.1L82.1,209.1L82.5,208.4L83.2,207.8L84.0,207.6L85.0,207.6L86.0,207.4L86.7,207.0L87.6,206.4L88.4,205.7L89.3,205.3L90.1,205.3L91.0,205.5L91.8,205.5L92.6,205.3L93.5,205.0L94.3,204.7L95.1,204.6L96.0,204.8L96.8,205.3L97.6,206.2L98.5,207.2L99.4,208.2L100.2,208.8L100.9,209.2L101.6,209.2L102.2,208.7L102.7,208.0L103.2,207.0L103.6,206.0L104.0,204.8L104.5,203.8L105.0,202.8L105.5,201.7L106.1,200.5L106.6,199.3L107.2,198.4L107.7,197.8L108.2,197.5L108.8,197.8L109.3,198.5L109.8,199.5L110.3,200.5L110.8,201.5L111.4,202.2L112.3,202.9L113.2,203.4L114.1,203.6L115.0,203.7L115.8,203.6L116.6,203.3L117.4,203.2L118.2,203.2L119.0,203.4L119.8,203.5L120.6,203.5L121.3,203.4L122.2,203.3L123.0,203.1L123.8,203.0L124.6,203.0L125.5,203.2L126.3,203.8L127.0,204.6L127.7,205.3L128.3,205.9L128.8,206.5L129.2,207.0L129.6,207.6L130.0,208.2L130.5,209.0L131.1,210.1L131.6,211.1L132.3,211.7L132.8,211.6L133.4,211.0L134.0,210.0L134.7,208.8L135.3,207.6L135.9,206.6L136.5,205.9L137.1,205.2L137.7,204.7L138.3,204.2L138.9,203.8L139.5,203.5L140.4,203.4L141.2,203.6L142.1,203.7L143.0,203.5L143.7,203.2L144.5,202.9L145.3,202.6L146.1,202.2L147.0,201.6L147.7,201.0L148.5,200.1L149.3,198.9L150.1,197.8L150.9,197.0L151.7,196.7L152.3,196.9L153.1,197.6L153.8,198.5L154.4,199.2L155.0,199.5L155.7,199.6L156.4,199.9L157.2,200.5L158.1,201.5L158.9,202.2L159.8,202.7L160.7,202.7L161.7,202.6L162.7,202.6L163.5,202.7L164.4,203.0L165.2,203.3L166.2,203.7L167.1,203.9L168.0,203.9L168.9,203.6L169.8,203.1L170.7,202.5L171.6,202.0L172.6,201.9L173.4,202.1L174.3,202.3L175.1,202.2L175.9,201.8L176.6,201.1L177.3,200.3L177.9,199.5L178.5,198.8L179.1,198.1L179.7,197.5L180.4,196.7L181.0,196.0L181.5,195.2L182.1,194.5L182.8,193.9L183.6,193.3L184.6,192.6L185.5,192.0L186.5,191.6L187.4,191.7L188.2,192.2L189.0,193.1L189.7,194.1L190.5,194.9L191.3,195.3L192.2,195.6L193.2,196.1L194.1,196.9L195.1,197.3L195.9,196.9L196.4,196.1L196.8,195.1L197.2,193.9L197.5,192.7L197.9,191.5L198.3,190.4L198.6,189.6L199.0,189.0L199.5,188.5L200.0,188.0L200.6,187.5L201.1,186.8L201.6,185.9L202.1,184.8L202.6,183.6L203.1,182.5L203.7,181.6L204.2,180.9L204.7,180.4L205.2,180.0L206.0,179.5L206.7,178.7L207.4,177.8L208.2,177.1L209.0,176.9L209.7,177.2L210.5,177.6L211.3,177.4L211.9,176.7L212.6,175.7L213.2,174.5L213.9,173.4L214.5,172.6L215.0,172.1L215.7,171.7L216.2,171.5L217.0,171.0L217.4,170.6L217.8,170.2L218.3,169.6L218.8,168.8L219.3,167.9L219.8,166.8L220.3,165.6L220.8,164.3L221.3,163.2L221.8,162.2L222.3,161.2L222.7,160.3L223.2,159.4L223.7,158.5L224.2,157.7L224.6,156.9L225.1,156.1L225.6,155.3L226.2,154.4L226.9,153.5L227.5,152.7L228.2,152.1L228.8,151.6L229.4,151.2L229.9,151.0L230.7,150.8L231.4,150.6L232.0,150.5L232.6,150.6L233.0,151.1L233.4,151.8L233.7,152.7L234.1,154.0L234.3,154.5L234.5,155.2L234.7,155.8L235.0,156.5L235.2,157.2L235.5,158.0L235.7,158.9L236.0,159.9L236.3,161.1L236.5,161.7L236.6,162.5L236.8,163.2L236.9,164.1L237.1,165.0L237.3,166.0L237.5,167.0L237.7,168.1L237.8,169.2L238.0,170.4L238.2,171.5L238.4,172.7L238.6,173.9L238.8,175.0L239.0,176.2L239.1,177.2L239.3,178.3L239.5,179.3L239.7,180.3L239.9,181.3L240.1,182.2L240.3,183.1L240.5,183.9L240.7,184.7L240.9,185.5L241.1,186.2L241.3,187.0L241.5,187.7L241.7,188.4L241.9,189.2L242.1,189.9L242.3,190.7L242.5,191.5L242.7,192.4L242.9,193.3L243.1,194.3L243.3,195.3L243.5,196.3L243.7,197.3L243.9,198.3L244.1,199.3L244.3,200.3L244.4,201.3L244.6,202.4L244.8,203.5L245.1,204.5L245.3,205.7L245.5,206.8L245.7,207.8L245.9,208.7L246.1,209.7L246.3,210.7L246.6,211.7L246.8,212.7L247.0,213.6L247.2,214.6L247.5,215.6L247.7,216.6L247.9,217.6L248.2,218.5L248.4,219.5L248.6,220.4L248.9,221.4L249.1,222.3L249.3,223.3L249.5,224.2L249.7,225.1L249.9,226.1L250.1,227.0L250.3,228.0L250.5,229.0L250.7,230.0L250.9,231.1L251.1,232.1L251.3,233.1L251.5,234.1L251.7,235.1L251.9,236.0L252.1,237.0L252.3,237.9L252.5,238.8L252.7,239.6L252.9,240.4L253.2,241.5L253.5,242.5L253.7,243.5L254.0,244.4L254.3,245.3L254.6,246.2L254.9,247.1L255.2,248.0L255.4,248.9L255.7,249.8L256.0,250.7L256.2,251.6L256.5,252.5L256.9,253.7L257.2,254.9L257.6,255.9L257.9,256.9L258.2,257.8L258.5,258.5L258.9,259.2L259.2,259.8L259.5,260.3L260.1,261.2L260.6,262.1L261.2,262.9L261.7,263.6L262.3,264.1L263.0,264.2L263.6,263.6L264.3,262.6L265.0,261.3L265.4,260.5L265.9,259.7L266.3,258.9L266.8,258.0L267.3,257.0L267.9,256.1L268.5,255.3L268.9,254.8L269.3,254.4L269.8,253.9L270.2,253.3L270.7,252.7L271.2,251.8L271.7,250.8L272.2,249.7L272.7,248.5L273.2,247.3L273.7,246.3L274.2,245.3L274.8,244.3L275.5,243.5L276.1,242.9L276.7,242.5L277.4,242.2L278.0,241.9L278.7,241.5L279.3,240.9L279.9,240.0L280.5,239.2L281.0,238.2L281.6,237.1L282.1,236.1L282.7,235.1L283.2,234.2L283.7,233.3L284.3,232.6L284.8,232.0L285.3,231.5L285.9,230.8L286.6,230.1L287.2,229.4L287.8,228.5L288.4,227.6L289.0,226.7L289.6,225.9L290.2,225.2L291.2,224.7L292.2,225.1L293.2,226.1L294.2,226.7L295.1,226.1L295.6,225.2L296.1,224.0L296.5,222.8L296.9,221.6L297.4,220.6L297.8,219.9L298.3,219.4L298.9,219.2L299.7,219.2L300.7,219.1L301.6,218.9L302.6,218.8L303.6,218.7L304.6,218.4L305.6,217.9L306.5,217.3L307.5,216.7L308.4,216.3L309.4,216.0L310.3,216.1L311.1,216.5L311.9,216.8L312.7,217.0L313.6,216.7L314.4,216.1L315.2,215.4L316.0,214.5L316.8,213.7L317.6,213.1L318.4,212.9L319.3,212.9L320.1,212.9L320.9,212.4L321.7,211.7L322.5,211.0L323.4,210.6L324.2,210.7L325.0,210.9L325.8,210.6L326.7,210.0L327.5,209.1L328.3,208.4L329.1,208.1L330.0,208.0L330.8,207.9L331.6,207.6L332.4,207.1L333.2,206.8L334.1,206.7L335.0,206.9L335.9,207.4L336.7,208.3L337.6,209.2L338.5,209.9L339.4,210.4L340.3,210.7L341.2,210.9L342.1,211.1L343.0,211.2L343.9,211.2L344.8,210.8L345.8,210.1L346.7,209.3L347.6,208.5L348.5,207.9L349.4,207.8L350.2,208.2L351.0,209.1L351.8,210.2L352.6,211.3L353.3,212.2L353.9,212.4L354.4,212.0L354.9,211.1L355.3,210.0L355.7,208.7L356.1,207.5L356.6,206.4L357.2,205.6L357.8,204.8L358.4,204.2L359.0,203.7L359.7,203.4L360.3,203.1L361.2,203.0L362.0,203.2L362.9,203.6L363.9,203.8L364.8,203.8L365.8,203.3L366.7,203.0L367.7,203.3L368.5,204.2L369.3,205.3L370.0,206.3L370.6,207.2L371.2,208.2L371.7,209.0L372.1,210.0L372.6,211.1L373.0,212.0L373.5,212.7L373.9,213.0L374.5,212.8L375.0,211.9L375.6,210.7L376.2,209.7L376.9,209.0L377.6,208.3L378.4,207.9L379.4,207.7L380.2,207.7L381.0,207.5L381.9,207.4L382.8,207.3L383.7,207.4L384.6,207.5L385.6,207.7L386.5,207.9L387.4,207.9L388.3,207.9L389.2,207.8L389.8,207.5L390.5,207.0L391.1,206.6L391.8,206.1L392.4,205.6L393.1,205.1L393.7,204.5L394.6,203.8L395.6,203.6L396.6,204.1L397.5,205.0L398.3,205.7L399.2,205.8L400.0,205.3L400.7,204.4L401.5,203.1L402.1,201.9L402.7,200.5L403.3,199.3L403.9,198.5L404.5,198.2L405.1,198.4L405.8,199.1L406.4,199.9L407.1,200.7L407.7,201.3L408.3,201.8L408.9,202.4L409.4,203.3L409.9,204.2L410.4,205.2L411.0,205.9L411.9,206.3L412.8,206.2L413.7,205.8L414.6,205.4L415.2,205.0L415.7,204.3L416.3,203.6L416.8,202.9L417.4,202.3L418.2,202.0L419.1,201.8L420.1,202.0L421.0,202.3L421.7,202.6L422.4,202.9L423.2,203.1L423.9,203.3L424.6,203.6L425.5,204.0L426.4,204.4L427.4,204.4L428.3,204.1L429.2,203.5L430.2,203.1L431.1,203.0L432.0,203.2L432.9,203.7L433.8,204.3L434.6,204.9L435.5,205.4L436.4,205.9L437.2,206.2L438.1,206.1L439.0,205.7L439.9,205.2L440.8,205.1L441.7,205.2L442.6,205.1L443.5,204.6L444.4,204.2L445.3,204.4L446.1,205.0L447.0,205.6L447.8,205.7L448.5,205.3L449.3,204.4L450.2,203.6L451.0,203.1L451.8,202.9L452.7,202.9L453.5,203.1L454.4,203.3L455.4,203.6L456.0,203.8L456.7,203.8L457.4,203.9L458.1,204.2L458.8,204.7L459.5,205.4L460.2,206.1L460.8,206.7L461.8,207.4L462.7,207.7L463.7,207.7L464.6,207.6L465.4,207.8L466.0,208.3L466.5,209.1L467.1,210.0L467.6,211.0L468.1,212.0L468.5,212.7L469.0,213.2L469.6,213.2L470.1,212.7L470.6,211.8L471.1,210.8L471.7,209.9L472.3,209.1L473.0,208.2L473.6,207.4L474.3,207.0L475.0,206.9L475.6,207.3L476.2,208.0L476.8,208.7L477.4,209.3L478.0,209.7L478.6,209.8L479.4,209.6L480.1,209.2L480.7,208.5L481.5,207.8L482.0,207.3L482.5,206.6L483.0,205.9L483.5,205.1L484.0,204.3L484.5,203.6L485.0,202.9L485.7,201.8L486.4,200.9L487.0,200.2L487.7,199.9L488.3,200.1L488.9,200.7L489.5,201.5L490.2,202.4L491.0,203.2L491.6,203.8L492.3,204.5L493.1,205.2L493.8,206.0L494.5,206.7L495.3,207.4L495.9,208.0L496.9,208.6L497.8,208.7L498.6,208.4L499.5,207.9L500.2,207.4L501.0,206.9L501.7,206.4L502.5,206.1L503.2,206.2L503.9,206.7L504.7,207.4L505.4,208.0L506.1,208.2L506.8,207.9L507.2,207.4L507.6,206.6L508.0,205.7L508.3,204.7L508.7,203.9L509.1,203.2L509.5,202.9L510.4,202.7L511.4,202.5L512.3,202.4L513.2,202.6L513.8,203.0L514.3,203.7L514.9,204.6L515.4,205.3L515.9,205.9L517.0,206.1L518.0,206.0L518.8,205.7" stroke="#ff00ff"/>
<path d="M59.6,202.9L60.2,202.6L61.0,202.4L61.9,202.2L62.9,201.9L63.7,201.3L64.5,200.5L65.3,199.8L66.0,199.7L66.6,200.2L67.2,201.0L67.7,202.0L68.2,203.0L68.7,203.8L69.3,204.0L70.0,203.7L70.8,203.1L71.6,202.8L72.4,202.9L73.3,203.3L74.1,203.8L74.9,204.3L75.7,204.8L76.2,205.3L76.7,205.9L77.2,206.6L77.7,207.3L78.2,207.8L78.8,208.3L79.6,208.7L80.4,209.1L81.2,209.5L82.1,209.9L83.0,210.2L83.9,210.4L84.7,210.3L85.6,210.0L86.5,209.7L87.3,209.3L88.2,209.0L88.9,208.4L89.7,207.8L90.4,207.1L91.1,206.5L91.8,206.0L92.6,205.9L93.4,205.7L94.3,205.1L95.2,203.9L96.1,202.8L96.9,202.1L97.7,202.3L98.5,203.0L99.2,203.9L99.9,204.5L100.5,204.8L101.1,204.9L101.8,205.1L102.5,205.5L103.2,206.2L104.0,206.9L104.8,207.3L105.7,207.5L106.6,207.4L107.5,207.1L108.4,206.9L109.1,206.5L109.9,205.9L110.6,205.3L111.2,204.9L111.9,204.8L112.6,205.1L113.3,205.7L114.0,206.4L114.6,207.1L115.2,207.7L115.8,208.3L116.3,209.0L116.8,209.5L117.4,209.4L117.8,208.9L118.2,208.1L118.6,207.2L119.0,206.1L119.5,205.1L120.0,204.2L120.5,203.5L121.0,202.7L121.6,201.8L122.2,201.0L122.8,200.3L123.3,199.7L123.8,199.3L124.7,199.4L125.4,200.3L126.2,201.3L126.7,202.0L127.3,202.8L127.9,203.4L128.5,203.5L129.3,202.9L130.2,201.8L131.0,200.8L131.8,200.4L132.4,200.7L133.0,201.5L133.8,202.5L134.3,203.1L135.0,203.9L135.6,204.7L136.3,205.6L137.1,206.2L137.7,206.5L138.4,206.3L139.1,205.8L139.8,205.0L140.4,204.3L141.1,203.6L141.7,203.3L142.4,202.9L143.0,202.6L143.6,202.1L144.2,201.4L144.7,200.9L145.4,200.0L146.0,199.4L146.7,199.5L147.2,200.0L147.6,200.7L148.1,201.5L148.6,202.4L149.1,203.2L149.4,203.8L149.8,204.4L150.2,205.2L150.5,205.9L150.9,206.6L151.3,207.2L151.7,207.7L152.7,208.2L153.7,208.5L154.6,208.4L155.3,208.2L155.4,208.3L155.5,207.9L155.8,207.4L156.3,206.5L156.8,205.6L157.4,204.6L157.9,203.6L158.5,202.9L159.3,202.1L160.2,201.5L161.1,201.2L162.0,201.2L162.9,201.7L163.8,202.5L164.7,203.0L165.5,202.8L165.9,202.3L166.2,201.5L166.5,200.6L166.8,199.5L167.1,198.4L167.4,197.3L167.7,196.2L168.0,195.3L168.6,194.0L169.1,192.9L169.8,191.9L170.4,191.1L171.0,190.4L171.6,189.8L172.3,189.3L172.9,188.7L173.6,188.3L174.3,188.1L175.2,188.2L176.2,188.6L177.1,189.1L178.0,189.1L178.8,188.8L179.6,188.4L180.3,188.0L181.0,188.0L181.5,188.4L182.0,189.1L182.5,190.0L183.0,190.6L183.5,190.8L183.9,190.5L184.3,189.8L184.8,188.9L185.2,188.0L185.6,187.1L186.0,186.4L186.6,185.7L187.1,185.2L187.6,184.6L188.2,183.6L188.5,182.9L188.8,182.2L189.1,181.3L189.4,180.4L189.7,179.4L190.0,178.4L190.4,177.4L190.7,176.4L191.0,175.5L191.4,174.3L191.9,173.3L192.3,172.2L192.7,171.4L193.2,170.7L193.6,170.1L194.0,169.7L194.6,169.2L195.2,168.8L195.9,168.1L196.5,167.1L197.1,166.1L197.6,165.0L198.2,164.1L198.9,163.3L199.5,162.6L200.0,162.1L200.4,161.5L200.9,160.9L201.4,160.1L201.9,159.1L202.5,158.0L203.0,156.8L203.3,156.0L203.6,155.2L203.9,154.5L204.2,153.7L204.5,152.9L204.9,152.1L205.2,151.2L205.5,150.4L205.9,149.5L206.2,148.6L206.6,147.6L207.0,146.6L207.3,145.9L207.6,145.1L208.0,144.2L208.3,143.4L208.7,142.5L209.0,141.5L209.4,140.5L209.8,139.5L210.1,138.5L210.5,137.4L210.9,136.4L211.3,135.3L211.7,134.2L212.0,133.1L212.4,132.1L212.8,131.0L213.1,130.2L213.4,129.4L213.7,128.5L214.1,127.8L214.4,127.0L214.7,126.2L215.1,125.5L215.4,124.7L215.8,123.9L216.1,123.0L216.4,122.0L216.8,121.0L217.1,120.0L217.4,118.9L217.7,117.9L218.0,116.8L218.3,115.8L218.6,114.9L218.9,114.0L219.1,113.3L219.4,112.2L219.7,111.3L220.0,110.3L220.3,109.4L220.5,108.5L220.8,107.6L221.0,106.7L221.2,105.8L221.4,104.9L221.6,104.0L221.8,103.0L222.0,102.1L222.2,101.2L222.4,100.4L222.8,98.9L223.1,97.5L223.5,96.3L223.8,95.2L224.1,94.3L224.5,93.5L224.8,92.8L225.2,92.2L225.9,91.4L226.6,90.9L227.3,90.6L228.0,90.5L228.7,90.6L229.5,90.9L230.2,91.4L231.0,92.0L231.6,92.9L231.9,93.4L232.2,94.1L232.4,94.8L232.7,95.6L232.9,96.5L233.2,97.4L233.4,98.4L233.6,99.4L233.7,100.1L233.9,100.8L234.0,101.5L234.1,102.2L234.2,102.9L234.3,103.7L234.4,104.6L234.5,105.5L234.7,106.6L234.8,107.7L234.9,109.0L235.0,109.7L235.0,110.5L235.1,111.3L235.2,112.2L235.3,113.1L235.3,114.0L235.4,115.0L235.5,115.9L235.6,116.9L235.6,118.0L235.7,119.0L235.8,120.0L235.9,121.1L236.0,122.1L236.0,123.2L236.1,124.2L236.2,125.2L236.3,126.2L236.4,127.2L236.4,128.2L236.5,129.1L236.6,130.1L236.7,131.1L236.7,132.1L236.8,133.1L236.9,134.0L237.0,134.9L237.0,135.9L237.1,136.8L237.2,137.8L237.3,138.7L237.3,139.6L237.4,140.6L237.5,141.5L237.6,142.5L237.7,143.5L237.7,144.5L237.8,145.5L237.9,146.5L238.0,147.6L238.1,148.5L238.2,149.4L238.2,150.4L238.3,151.3L238.4,152.2L238.5,153.2L238.6,154.2L238.7,155.2L238.7,156.1L238.8,157.1L238.9,158.1L239.0,159.1L239.1,160.2L239.2,161.2L239.3,162.2L239.4,163.2L239.5,164.2L239.6,165.2L239.6,166.2L239.7,167.2L239.8,168.2L239.9,169.2L240.0,170.2L240.1,171.2L240.2,172.2L240.3,173.2L240.4,174.2L240.4,175.2L240.5,176.2L240.6,177.2L240.7,178.2L240.8,179.2L240.9,180.2L241.0,181.2L241.1,182.2L241.2,183.2L241.2,184.2L241.3,185.2L241.4,186.1L241.5,187.1L241.6,188.0L241.7,189.0L241.8,189.9L241.8,190.8L241.9,191.7L242.0,192.6L242.1,193.6L242.2,194.6L242.3,195.5L242.4,196.4L242.5,197.2L242.5,198.1L242.6,198.9L242.7,199.7L242.8,200.5L242.9,201.3L243.0,202.2L243.0,203.0L243.1,203.9L243.2,204.8L243.3,205.8L243.4,206.8L243.4,207.8L243.5,208.9L243.6,210.1L243.6,210.9L243.7,211.7L243.7,212.6L243.8,213.4L243.8,214.3L243.9,215.2L243.9,216.2L243.9,217.2L244.0,218.1L244.0,219.1L244.1,220.1L244.1,221.2L244.1,222.2L244.2,223.2L244.2,224.3L244.3,225.3L244.3,226.4L244.3,227.4L244.4,228.5L244.4,229.5L244.5,230.5L244.5,231.5L244.5,232.5L244.6,233.5L244.6,234.5L244.7,235.4L244.7,236.4L244.8,237.3L244.8,238.2L244.9,239.0L244.9,239.8L245.0,241.0L245.0,242.1L245.1,243.1L245.2,244.1L245.3,245.1L245.3,246.0L245.4,246.9L245.5,247.7L245.6,248.6L245.6,249.4L245.7,250.3L245.8,251.1L245.9,252.0L246.0,252.9L246.1,253.8L246.1,254.8L246.2,255.8L246.3,256.8L246.4,257.9L246.5,259.1L246.6,260.3L246.7,261.1L246.7,262.0L246.8,262.9L246.9,263.8L246.9,264.7L247.0,265.7L247.1,266.7L247.1,267.6L247.2,268.7L247.3,269.7L247.3,270.7L247.4,271.7L247.5,272.8L247.5,273.8L247.6,274.9L247.7,275.9L247.8,277.0L247.8,278.0L247.9,279.1L248.0,280.1L248.1,281.1L248.1,282.1L248.2,283.1L248.3,284.1L248.3,285.1L248.4,286.1L248.5,287.0L248.6,287.9L248.6,288.8L248.7,289.7L248.8,290.5L248.8,291.4L248.9,292.1L249.0,293.3L249.1,294.4L249.2,295.6L249.3,296.7L249.4,297.7L249.5,298.8L249.6,299.8L249.6,300.9L249.7,301.9L249.8,302.9L249.9,303.8L250.0,304.8L250.1,305.7L250.2,306.6L250.3,307.5L250.4,308.3L250.5,309.2L250.6,310.0L250.7,310.8L250.8,311.5L250.9,312.3L251.0,313.0L251.3,314.5L251.5,315.8L251.8,317.0L252.1,318.1L252.4,319.1L252.7,319.9L253.0,320.7L253.3,321.3L253.6,321.9L253.8,322.4L254.5,323.5L255.0,323.7L255.7,323.6L256.3,323.5L257.0,323.1L257.8,322.4L258.5,321.4L258.9,320.7L259.4,320.0L259.8,319.2L260.2,318.3L260.7,317.3L261.2,316.1L261.7,314.9L262.0,314.1L262.2,313.4L262.5,312.6L262.8,311.7L263.1,310.8L263.4,309.9L263.7,309.0L264.0,308.0L264.3,307.1L264.7,306.1L265.0,305.2L265.3,304.2L265.7,303.2L266.0,302.3L266.3,301.4L266.7,300.4L267.0,299.5L267.3,298.6L267.7,297.6L268.0,296.7L268.4,295.7L268.8,294.8L269.1,294.0L269.5,293.1L269.9,292.2L270.2,291.3L270.6,290.4L270.9,289.4L271.3,288.4L271.7,287.3L272.1,286.2L272.5,285.1L272.9,284.1L273.3,283.1L273.7,282.2L274.1,281.5L274.5,280.9L274.9,280.2L275.2,279.6L275.6,279.0L276.0,278.3L276.4,277.4L276.7,276.5L277.1,275.4L277.5,274.2L277.8,273.0L278.2,271.9L278.5,270.9L278.8,270.0L279.2,269.1L279.5,268.4L279.8,267.7L280.2,267.1L280.5,266.5L280.9,266.0L281.3,265.3L281.7,264.5L282.2,263.6L282.6,262.7L283.1,261.7L283.5,260.7L283.9,259.6L284.4,258.5L284.8,257.5L285.2,256.5L285.6,255.6L286.3,254.3L286.9,253.6L287.6,253.1L288.2,252.7L288.8,252.2L289.4,251.5L289.7,251.1L290.0,250.6L290.3,250.0L290.6,249.3L290.9,248.6L291.2,247.7L291.5,246.8L291.8,245.8L292.1,244.8L292.4,243.7L292.7,242.6L292.9,241.6L293.2,240.7L293.6,239.4L293.9,238.2L294.2,237.2L294.5,236.3L294.7,235.5L295.0,234.8L295.4,234.3L295.7,233.9L296.1,233.6L296.8,233.3L297.5,232.7L298.3,231.9L299.2,231.1L300.0,230.8L300.8,230.8L301.5,230.7L302.2,230.5L302.9,229.8L303.5,228.9L304.2,228.0L304.9,227.4L305.6,227.1L306.4,227.0L307.2,226.9L308.0,226.4L308.8,225.6L309.6,224.7L310.3,224.0L310.8,223.6L311.2,223.1L311.6,222.5L312.1,221.8L312.5,221.0L312.9,220.1L313.3,219.1L313.7,218.1L314.1,217.1L314.7,215.8L315.3,214.7L315.9,213.9L316.5,213.3L317.2,212.8L317.9,212.4L318.8,212.0L319.7,211.7L320.7,211.7L321.7,212.0L322.7,212.3L323.7,212.5L324.7,212.5L325.7,212.2L326.7,211.7L327.7,211.1L328.6,210.7L329.4,210.6L330.3,210.7L331.1,211.1L331.8,211.5L332.4,212.0L333.0,212.4L333.8,213.3L334.5,214.2L335.3,214.5L335.8,214.1L336.4,213.2L337.0,212.3L337.7,211.7L338.5,211.9L339.4,212.5L340.4,213.4L341.3,214.0L342.2,214.0L343.2,213.6L344.2,213.2L345.2,213.0L346.1,213.0L346.8,212.8L347.5,212.5L348.2,212.0L348.8,211.7L349.4,211.7L349.9,212.0L350.3,212.8L350.7,213.8L351.1,214.7L351.6,215.5L352.4,216.4L353.2,217.3L354.1,218.0L355.0,218.1L355.5,217.8L356.0,217.2L356.5,216.4L357.0,215.6L357.4,214.7L357.9,214.0L358.4,213.2L358.8,212.4L359.2,211.6L359.7,210.7L360.2,209.8L360.6,209.0L361.1,208.2L361.7,207.3L362.2,206.4L362.8,205.6L363.3,204.8L364.0,203.9L364.8,203.1L365.5,202.4L366.3,201.9L367.1,201.6L368.0,201.4L368.9,201.4L369.9,201.6L370.8,201.9L371.6,202.2L372.4,202.7L373.1,203.2L373.7,203.7L374.4,204.2L375.1,204.7L375.9,205.3L376.7,205.9L377.4,206.0L377.9,205.6L378.3,204.9L378.8,204.0L379.3,203.3L379.8,202.9L380.6,203.3L381.5,204.1L382.3,204.9L383.1,205.2L384.1,204.7L385.0,204.3L385.5,204.8L385.9,205.6L386.5,206.6L387.1,207.6L387.8,208.3L388.5,208.9L389.2,209.1L390.0,209.1L390.8,208.9L391.5,208.6L392.3,208.2L393.0,207.8L393.8,207.4L394.5,207.2L395.1,207.0L396.2,206.8L397.0,206.8L397.9,206.6L398.6,206.1L399.3,205.7L400.0,205.5L400.7,205.7L401.4,206.2L402.1,206.8L402.8,207.4L403.4,208.1L403.7,208.7L403.8,209.5L404.0,210.4L404.1,211.2L404.5,211.8L405.1,212.4L405.8,212.9L406.5,213.3L407.4,213.6L408.1,213.8L408.9,214.3L409.8,215.0L410.7,215.7L411.4,216.3L412.0,216.5L412.5,216.1L412.7,215.3L412.9,214.2L413.1,213.1L413.3,212.0L413.6,211.2L413.9,210.3L414.2,209.5L414.5,208.6L414.9,207.8L415.3,207.2L415.9,206.5L416.6,205.9L417.3,205.5L418.1,205.2L418.8,204.9L419.7,204.8L420.6,204.7L421.5,204.8L422.3,205.0L423.2,205.4L423.9,206.1L424.7,206.7L425.4,207.1L426.2,206.9L427.0,206.4L427.8,206.0L428.6,206.0L429.5,206.2L430.3,206.4L431.2,206.5L431.9,206.5L432.6,206.4L433.4,206.3L434.2,206.0L434.7,205.7L435.4,205.2L436.0,204.6L436.7,203.9L437.3,203.0L437.9,202.1L438.4,201.2L438.9,200.1L439.3,198.9L439.8,197.9L440.2,197.0L440.7,196.5L441.1,196.4L441.6,196.9L442.1,197.9L442.6,199.1L443.1,200.3L443.6,201.2L444.0,201.7L444.7,201.6L445.3,201.0L445.9,200.3L446.6,199.8L447.5,199.3L448.4,198.9L449.3,198.7L450.0,198.9L450.4,199.5L450.8,200.2L451.0,201.2L451.3,202.2L451.6,203.1L451.9,204.0L452.3,204.9L452.8,206.0L453.3,206.8L453.8,207.2L454.3,207.1L454.8,206.5L455.4,205.5L456.0,204.4L456.6,203.4L457.1,202.6L457.6,202.1L458.4,201.6L459.1,201.5L459.9,201.4L460.6,201.3L461.3,201.3L462.1,201.3L463.0,201.4L463.8,201.7L464.6,202.2L465.4,202.6L466.2,202.8L467.0,202.9L467.7,203.2L468.4,203.9L469.1,204.9L469.7,205.8L470.3,206.5L471.0,206.6L471.6,206.1L472.2,205.3L472.9,204.6L473.8,204.4L474.7,204.3L475.6,204.5L476.3,204.8L476.9,205.5L477.2,206.5L477.8,207.2L478.5,207.2L479.4,206.9L480.4,206.4L481.4,206.2L482.2,206.3L483.1,206.5L483.9,206.7L484.7,206.6L485.4,206.3L486.1,205.7L486.7,204.9L487.2,204.0L487.7,203.0L488.3,202.1L488.9,201.1L489.5,200.1L490.1,199.1L490.7,198.5L491.4,198.4L492.0,198.9L492.6,199.9L493.3,201.2L493.9,202.6L494.5,203.6L495.0,204.2L495.9,204.7L496.6,204.7L497.5,204.5L498.2,204.3L499.1,204.2L500.0,204.3L500.9,204.5L501.8,204.7L502.5,204.7L503.3,204.6L504.0,204.2L504.7,203.5L505.4,202.6L505.9,201.7L506.5,200.6L507.0,199.5L507.5,198.5L508.0,197.6L508.5,197.1L509.0,197.0L509.6,197.6L510.2,198.7L510.7,200.0L511.3,201.3L512.0,202.2L512.9,202.4L513.9,202.0L514.9,201.4L515.7,201.5L516.2,202.1L516.7,202.9L517.1,203.9L517.5,204.9L517.8,205.8L518.0,206.4" stroke="#008000"/>
<path d="M59.8,202.8L60.3,202.6L61.0,202.3L61.9,202.2L62.7,201.9L63.5,201.4L64.3,200.5L65.1,199.7L65.8,199.4L66.6,199.7L67.2,200.5L67.9,201.5L68.5,202.4L69.2,203.0L69.8,203.1L70.6,202.8L71.4,202.5L72.2,202.3L73.0,202.5L73.8,203.0L74.6,203.6L75.4,204.1L76.2,204.6L76.7,205.0L77.2,205.6L77.7,206.2L78.2,206.7L78.9,207.2L79.7,207.7L80.6,208.4L81.6,209.1L82.6,209.8L83.5,210.1L84.4,210.0L85.3,209.6L86.2,208.9L87.1,208.3L88.0,207.7L88.7,207.3L89.5,206.7L90.2,206.1L91.0,205.7L91.7,205.4L92.5,205.4L93.3,205.3L94.1,204.9L94.9,204.0L95.6,203.0L96.4,202.2L97.1,202.1L97.9,202.6L98.6,203.6L99.3,204.4L100.0,204.9L100.7,204.9L101.4,204.9L102.1,205.1L102.9,205.7L103.6,206.5L104.4,207.0L105.2,207.3L106.1,207.1L106.9,206.6L107.8,206.2L108.6,205.8L109.4,205.4L110.2,204.9L110.9,204.4L111.6,204.1L112.3,204.1L113.1,204.6L113.7,205.5L114.4,206.5L115.0,207.3L115.6,208.1L116.1,208.9L116.7,209.5L117.3,209.5L117.8,208.9L118.3,208.1L118.8,207.1L119.4,206.0L120.0,205.0L120.5,204.0L121.0,203.1L121.6,202.1L122.1,201.1L122.6,200.1L123.1,199.4L123.6,198.9L124.3,198.7L125.1,199.1L125.7,199.9L126.4,200.6L127.0,201.4L127.5,202.3L128.0,203.0L128.6,203.1L129.3,202.5L130.0,201.3L130.7,200.1L131.4,199.6L132.1,199.7L132.7,200.3L133.4,201.0L134.1,201.8L134.8,202.5L135.5,203.4L136.2,204.2L137.0,205.0L137.7,205.3L138.4,205.2L139.2,204.7L140.0,203.9L140.7,203.3L141.4,202.8L142.0,202.6L142.6,202.2L143.1,201.8L143.6,201.4L144.1,200.8L144.8,200.0L145.5,199.1L146.1,198.5L146.8,198.6L147.3,199.1L147.9,199.9L148.4,200.8L149.0,201.7L149.5,202.4L149.9,202.9L150.3,203.5L150.7,204.2L151.1,204.9L151.5,205.6L151.9,206.3L152.3,206.9L153.2,207.7L154.1,208.0L155.0,207.5L155.5,207.0L156.0,206.2L156.5,205.2L157.0,204.2L157.5,203.3L158.1,202.5L158.8,201.7L159.6,201.1L160.4,200.5L161.2,200.2L161.9,200.1L162.7,200.5L163.5,201.2L164.3,201.8L165.0,201.5L165.3,201.1L165.5,200.4L165.8,199.6L166.0,198.6L166.3,197.6L166.5,196.6L166.8,195.6L167.0,194.6L167.3,193.8L167.9,192.6L168.4,191.5L169.1,190.5L169.7,189.6L170.4,188.9L171.1,188.1L171.9,187.4L172.8,186.7L173.6,186.1L174.3,185.8L175.2,186.0L176.0,186.6L176.7,187.3L177.4,187.6L178.2,187.1L179.0,186.3L179.7,185.8L180.3,186.0L180.8,186.6L181.4,187.3L182.0,187.8L182.8,188.6L183.5,189.4L184.3,189.2L184.6,188.8L184.9,188.2L185.1,187.4L185.4,186.5L185.7,185.6L186.0,184.6L186.3,183.6L186.6,182.7L186.9,182.0L187.2,181.2L187.5,180.4L187.8,179.6L188.1,178.8L188.4,177.9L188.7,177.1L189.1,176.2L189.4,175.4L189.7,174.5L190.0,173.5L190.4,172.5L190.7,171.4L191.1,170.4L191.4,169.3L191.8,168.3L192.1,167.5L192.5,166.7L192.8,166.1L193.6,165.5L194.4,165.5L195.1,165.6L195.9,165.1L196.5,164.2L197.1,163.1L197.8,162.0L198.4,161.0L199.0,160.2L199.4,159.6L199.9,159.0L200.3,158.4L200.7,157.7L201.2,156.8L201.6,155.8L202.1,154.6L202.4,153.8L202.7,153.0L203.0,152.1L203.3,151.3L203.7,150.5L204.0,149.6L204.3,148.8L204.7,148.0L205.0,147.2L205.3,146.3L205.7,145.5L206.0,144.6L206.3,143.8L206.6,143.0L206.8,142.2L207.1,141.4L207.4,140.5L207.6,139.7L207.9,138.7L208.2,137.8L208.4,136.8L208.7,135.8L209.0,134.7L209.3,133.6L209.7,132.5L210.0,131.3L210.3,130.4L210.5,129.4L210.8,128.5L211.1,127.5L211.4,126.4L211.7,125.4L212.0,124.4L212.3,123.3L212.6,122.3L212.9,121.3L213.3,120.4L213.6,119.4L213.9,118.5L214.2,117.7L214.5,116.9L214.8,116.1L215.1,115.3L215.3,114.6L215.6,113.8L215.9,112.9L216.2,112.0L216.5,111.0L216.8,110.1L217.1,109.0L217.3,108.0L217.6,107.0L217.9,106.0L218.1,105.0L218.4,104.0L218.6,103.1L218.9,102.1L219.1,101.2L219.4,100.4L219.7,99.5L219.9,98.6L220.1,97.9L220.3,97.0L220.6,96.2L220.8,95.3L221.0,94.4L221.2,93.4L221.4,92.4L221.6,91.4L221.8,90.3L222.0,89.2L222.2,88.1L222.4,87.0L222.6,85.9L222.8,84.8L223.0,83.8L223.2,82.8L223.4,81.9L223.6,81.0L224.0,79.5L224.3,78.2L224.7,77.1L225.0,76.2L225.4,75.5L225.7,74.9L226.0,74.4L226.3,74.0L226.6,73.6L227.2,72.9L227.7,72.4L228.1,72.2L228.7,72.3L229.4,72.7L230.1,73.2L230.9,73.8L231.6,74.6L231.9,75.1L232.3,75.6L232.6,76.1L232.9,76.8L233.2,77.6L233.5,78.5L233.7,79.6L234.0,80.9L234.1,81.6L234.2,82.4L234.3,83.1L234.4,84.0L234.6,84.9L234.7,85.8L234.7,86.8L234.8,87.8L234.9,88.8L235.0,89.8L235.1,90.9L235.2,91.9L235.3,93.0L235.4,94.1L235.5,95.2L235.6,96.3L235.7,97.4L235.8,98.3L235.9,99.3L236.0,100.3L236.1,101.3L236.1,102.4L236.2,103.5L236.3,104.5L236.4,105.6L236.5,106.7L236.6,107.8L236.7,108.9L236.8,110.0L236.9,111.0L237.0,112.1L237.0,113.1L237.1,114.1L237.2,115.0L237.3,115.9L237.3,116.8L237.4,117.6L237.5,118.9L237.6,120.1L237.7,121.1L237.7,122.1L237.8,123.0L237.8,123.8L237.9,124.7L237.9,125.5L238.0,126.4L238.0,127.4L238.1,128.4L238.2,129.6L238.3,130.4L238.3,131.3L238.4,132.2L238.5,133.1L238.5,134.0L238.6,135.0L238.7,135.9L238.8,136.9L238.8,137.9L238.9,138.9L239.0,139.9L239.1,141.0L239.2,142.0L239.3,143.1L239.3,144.2L239.4,145.3L239.5,146.4L239.6,147.3L239.6,148.2L239.7,149.2L239.8,150.1L239.8,151.1L239.9,152.1L240.0,153.0L240.0,154.0L240.1,155.0L240.2,156.0L240.2,157.1L240.3,158.1L240.4,159.1L240.4,160.1L240.5,161.2L240.6,162.2L240.6,163.2L240.7,164.3L240.8,165.3L240.9,166.3L240.9,167.3L241.0,168.3L241.1,169.3L241.2,170.3L241.2,171.3L241.3,172.3L241.4,173.3L241.5,174.3L241.6,175.3L241.6,176.3L241.7,177.3L241.8,178.3L241.9,179.3L242.0,180.3L242.1,181.3L242.1,182.2L242.2,183.2L242.3,184.2L242.4,185.1L242.4,186.0L242.5,186.9L242.6,187.8L242.6,188.7L242.7,189.6L242.8,190.6L242.8,191.6L242.9,192.5L243.0,193.3L243.0,194.1L243.0,194.8L243.1,195.6L243.1,196.4L243.2,197.1L243.2,198.0L243.3,198.9L243.3,199.8L243.3,200.8L243.4,202.0L243.4,203.2L243.5,204.6L243.5,206.2L243.5,206.9L243.5,207.6L243.6,208.4L243.6,209.3L243.6,210.1L243.6,211.0L243.6,211.9L243.7,212.9L243.7,213.9L243.7,214.9L243.7,215.9L243.7,216.9L243.8,218.0L243.8,219.0L243.8,220.1L243.8,221.2L243.8,222.3L243.9,223.4L243.9,224.5L243.9,225.6L243.9,226.8L243.9,227.9L244.0,229.0L244.0,230.1L244.0,231.2L244.0,232.2L244.0,233.3L244.1,234.3L244.1,235.4L244.1,236.4L244.1,237.4L244.1,238.3L244.2,239.3L244.2,240.2L244.2,241.1L244.2,241.9L244.2,242.7L244.3,243.5L244.3,244.2L244.3,244.9L244.3,246.5L244.4,247.8L244.4,248.9L244.5,249.9L244.5,250.8L244.5,251.5L244.6,252.2L244.6,252.8L244.6,253.4L244.7,254.0L244.7,254.7L244.8,255.4L244.8,256.3L244.9,257.3L244.9,258.5L245.0,259.8L245.0,260.6L245.1,261.3L245.1,262.1L245.2,263.0L245.2,263.8L245.3,264.7L245.3,265.6L245.4,266.6L245.4,267.5L245.5,268.5L245.5,269.5L245.6,270.5L245.6,271.6L245.7,272.6L245.7,273.7L245.8,274.7L245.8,275.8L245.9,276.9L246.0,278.0L246.0,279.1L246.1,280.1L246.1,281.2L246.2,282.3L246.3,283.4L246.3,284.4L246.4,285.5L246.4,286.6L246.5,287.6L246.6,288.6L246.6,289.6L246.7,290.6L246.7,291.5L246.8,292.5L246.9,293.6L246.9,294.7L247.0,295.8L247.1,296.9L247.1,298.0L247.2,299.1L247.3,300.1L247.4,301.2L247.4,302.3L247.5,303.4L247.6,304.4L247.6,305.5L247.7,306.5L247.8,307.6L247.9,308.6L247.9,309.6L248.0,310.5L248.1,311.5L248.2,312.4L248.2,313.4L248.3,314.3L248.4,315.2L248.5,316.0L248.6,316.9L248.6,317.7L248.7,318.5L248.8,319.2L248.9,319.9L249.1,321.2L249.2,322.3L249.4,323.4L249.5,324.5L249.7,325.5L249.9,326.4L250.0,327.4L250.2,328.3L250.4,329.1L250.6,330.0L250.7,330.8L250.9,331.6L251.1,332.4L251.3,333.1L251.5,333.9L251.7,334.6L252.2,336.2L252.7,337.7L253.2,338.8L253.7,339.8L254.3,340.5L254.8,341.0L255.3,341.3L256.0,341.3L256.6,340.9L257.2,340.0L257.9,338.9L258.5,337.5L258.8,336.8L259.1,335.9L259.4,335.1L259.7,334.2L260.0,333.2L260.3,332.2L260.6,331.2L260.9,330.0L261.3,328.9L261.7,327.7L262.0,326.9L262.3,326.0L262.6,325.2L262.9,324.3L263.2,323.4L263.6,322.5L263.9,321.6L264.3,320.6L264.6,319.7L265.0,318.7L265.3,317.7L265.7,316.8L266.1,315.8L266.4,314.8L266.8,313.8L267.1,312.8L267.4,311.9L267.8,310.9L268.1,310.0L268.4,309.1L268.8,308.2L269.1,307.3L269.4,306.4L269.8,305.6L270.1,304.7L270.4,303.8L270.7,302.8L271.1,301.8L271.4,300.8L271.7,299.7L272.1,298.7L272.4,297.6L272.7,296.6L273.1,295.6L273.4,294.6L273.7,293.8L274.1,293.0L274.4,292.3L274.8,291.6L275.1,290.9L275.4,290.2L275.8,289.5L276.1,288.6L276.5,287.7L276.8,286.7L277.1,285.6L277.5,284.5L277.8,283.4L278.2,282.3L278.5,281.2L278.9,280.2L279.3,279.4L279.6,278.6L280.0,278.0L280.4,277.3L280.7,276.7L281.1,276.1L281.4,275.4L281.8,274.7L282.1,274.0L282.5,273.2L282.8,272.4L283.1,271.6L283.5,270.4L284.0,269.2L284.4,268.0L284.8,266.8L285.2,265.7L285.5,264.6L285.9,263.5L286.3,262.5L286.6,261.6L287.0,260.6L287.4,259.6L287.9,258.7L288.3,258.0L288.7,257.3L289.1,256.6L289.5,256.1L290.0,255.4L290.4,254.8L290.7,254.2L291.1,253.5L291.4,252.7L291.8,251.7L292.2,250.7L292.5,249.5L292.9,248.3L293.2,247.1L293.6,246.0L293.9,244.9L294.2,244.0L294.5,243.0L294.9,242.2L295.1,241.3L295.4,240.6L295.7,239.9L296.0,239.2L296.3,238.7L296.6,238.2L297.0,237.7L297.8,236.8L298.8,235.8L299.8,235.4L300.8,235.8L301.8,236.2L302.5,235.9L303.1,235.2L303.8,234.4L304.5,233.6L305.2,233.0L305.8,232.6L306.5,232.3L307.2,231.9L307.9,231.2L308.6,230.2L309.3,229.2L310.0,228.4L310.7,227.9L311.3,227.4L311.7,227.0L312.1,226.4L312.5,225.7L312.9,224.8L313.3,223.7L313.6,222.6L314.0,221.5L314.4,220.3L314.7,219.3L315.1,218.4L315.6,217.2L316.1,216.3L316.6,215.5L317.1,214.8L317.7,214.2L318.3,213.7L318.9,213.2L319.8,212.8L320.7,212.7L321.7,213.0L322.7,213.4L323.7,213.7L324.6,213.7L325.5,213.3L326.3,212.5L327.1,211.6L327.9,210.7L328.7,210.1L329.4,209.9L330.2,210.1L331.0,210.7L331.7,211.5L332.4,212.3L333.0,212.8L333.7,213.6L334.2,214.0L334.8,214.1L335.3,213.7L335.7,213.1L336.2,212.2L336.8,211.5L337.5,211.0L338.2,211.1L338.9,211.6L339.7,212.3L340.6,213.1L341.4,213.6L342.1,213.5L343.1,213.0L344.0,212.4L344.8,211.9L345.7,211.6L346.4,211.4L347.2,211.2L348.0,211.0L348.7,210.8L349.4,210.8L350.0,211.2L350.6,212.0L351.1,212.9L351.6,213.9L352.1,214.7L352.8,215.5L353.5,216.3L354.1,216.7L354.8,216.8L355.3,216.5L355.9,216.0L356.4,215.2L357.0,214.5L357.5,213.7L358.0,213.0L358.4,212.3L358.8,211.5L359.3,210.6L359.8,209.8L360.3,208.9L360.9,208.1L361.4,207.2L362.1,206.4L362.7,205.6L363.3,204.8L363.9,204.1L364.6,203.4L365.3,202.8L366.0,202.3L366.7,201.9L367.5,201.6L368.4,201.3L369.4,201.1L370.3,201.0L371.3,201.1L372.1,201.3L372.9,201.8L373.6,202.5L374.2,203.3L374.8,203.9L375.7,204.4L376.6,204.9L377.5,204.9L378.2,204.4L378.9,203.6L379.6,202.8L380.3,202.5L381.0,202.7L381.7,203.3L382.4,203.9L383.0,204.1L383.8,203.6L384.6,203.4L385.1,203.7L385.6,204.4L386.2,205.3L386.8,206.4L387.4,207.2L388.2,207.9L389.1,208.1L390.1,208.0L391.0,207.8L391.7,207.5L392.4,207.2L393.2,206.9L393.9,206.8L394.6,206.8L395.5,206.9L396.5,206.8L397.4,206.5L398.3,206.2L399.1,205.9L399.7,205.5L400.4,205.2L401.0,205.2L401.6,205.7L402.2,206.3L402.8,207.1L403.3,207.9L403.7,208.5L404.0,209.2L404.3,210.0L404.7,210.7L405.1,211.4L405.8,212.1L406.6,212.5L407.5,212.8L408.3,213.1L409.0,213.6L409.6,214.2L410.3,214.9L410.9,215.4L411.5,215.5L411.9,215.1L412.3,214.3L412.6,213.3L413.0,212.2L413.3,211.3L413.6,210.4L414.0,209.6L414.3,208.7L414.7,207.9L415.1,207.1L415.6,206.4L416.3,205.6L416.9,204.8L417.6,204.3L418.3,203.9L419.2,203.8L420.1,203.8L421.0,203.9L421.9,204.1L422.6,204.4L423.4,205.0L424.1,205.7L424.8,206.3L425.5,206.6L426.2,206.5L426.9,206.0L427.6,205.5L428.3,205.2L429.1,205.3L430.0,205.8L430.9,206.3L431.7,206.6L432.4,206.7L433.1,206.6L433.8,206.3L434.5,205.9L435.2,205.5L435.9,204.9L436.6,204.1L437.4,203.1L438.1,202.1L438.6,201.3L439.0,200.4L439.5,199.4L439.9,198.4L440.4,197.6L440.9,197.0L441.3,196.6L441.7,196.6L442.2,197.0L442.7,197.8L443.2,198.9L443.6,200.0L444.0,200.8L444.5,201.2L445.2,200.9L445.9,200.1L446.5,199.2L447.2,198.7L448.1,198.3L449.0,198.3L449.9,198.8L450.3,199.3L450.7,200.1L451.1,201.0L451.4,201.9L451.8,202.8L452.2,203.6L452.6,204.4L453.0,205.2L453.3,206.1L453.7,206.7L454.1,207.0L454.5,206.9L454.9,206.4L455.2,205.4L455.6,204.3L456.0,203.2L456.4,202.1L456.8,201.2L457.2,200.7L458.1,200.4L458.9,200.6L459.9,200.8L460.7,200.9L461.6,201.0L462.6,201.2L463.5,201.4L464.4,201.9L465.4,202.3L466.3,202.5L467.2,202.6L467.8,203.0L468.3,203.7L468.8,204.7L469.3,205.6L469.9,206.2L470.5,206.2L471.1,206.0L471.7,205.3L472.3,204.6L472.9,203.8L473.5,203.4L474.5,203.4L475.5,204.0L476.3,204.7L476.7,205.3L476.9,206.2L477.2,206.9L477.7,207.3L478.5,207.0L479.4,206.3L480.4,205.4L481.4,204.9L482.3,205.0L483.2,205.3L484.1,205.6L485.0,205.4L485.7,205.0L486.5,204.3L487.2,203.5L487.9,202.5L488.6,201.6L489.3,200.5L489.9,199.3L490.5,198.3L491.2,197.6L491.8,197.5L492.3,198.1L492.9,199.1L493.4,200.3L494.0,201.6L494.5,202.6L495.0,203.3L495.7,203.8L496.3,204.1L497.0,204.3L497.7,204.2L498.4,203.9L499.1,203.6L499.9,203.4L500.7,203.3L501.4,203.3L502.3,203.3L503.2,203.2L504.1,202.8L505.0,201.8L505.5,201.0L506.0,199.9L506.5,198.7L507.1,197.6L507.6,196.6L508.1,196.1L508.6,195.9L509.2,196.4L509.8,197.3L510.5,198.5L511.1,199.8L511.7,200.9L512.3,201.6L513.2,201.9L514.2,201.6L515.1,201.3L515.9,201.5L516.4,202.1L517.0,202.9L517.5,203.8L517.9,204.7L518.3,205.5L518.6,206.0" stroke="#000080"/>
</g>
<path d="M266.9,198.9L224,216.2" stroke="#000" stroke-width="1.5" fill="none"/>
<path d="M218.1,218.6L226.6,212.4L228.8,217.8Z" fill="#000"/>
<rect x="60.0" y="8.6" width="459.6" height="336.9" fill="none" stroke="#000" stroke-width="1.8"/>
<path d="M60.0,345.5V352.9M98.3,345.5V349.9M136.6,345.5V352.9M174.9,345.5V349.9M213.2,345.5V352.9M251.5,345.5V349.9M289.8,345.5V352.9M328.1,345.5V349.9M366.4,345.5V352.9M404.7,345.5V349.9M443.0,345.5V352.9M481.3,345.5V349.9M519.6,345.5V352.9" stroke="#000" stroke-width="1.7" fill="none"/>
<g class="ax">
<text x="59.8" y="373.2" text-anchor="middle">314.4</text>
<text x="136.4" y="373.2" text-anchor="middle">314.5</text>
<text x="213.0" y="373.2" text-anchor="middle">314.6</text>
<text x="289.6" y="373.2" text-anchor="middle">314.7</text>
<text x="366.2" y="373.2" text-anchor="middle">314.8</text>
<text x="442.8" y="373.2" text-anchor="middle">314.9</text>
<text x="519.4" y="373.2" text-anchor="middle">315.0</text>
</g>
<text x="290" y="410.3" text-anchor="middle" font-size="23">Magnetic field (G)</text>
<text transform="translate(24.9,192.5) rotate(-90)" text-anchor="middle" font-size="23">Intensity (a. u.)</text>
<text x="113" y="246.5" font-size="21.7" fill="#f01818">g = 1.999</text>
<path d="M275,28.2H315.6" stroke="#000000" stroke-width="1.7"/>
<text class="lg" x="321.1" y="34.1">g-C<tspan class="sb" dy="7.1">3</tspan><tspan dy="-7.1">N</tspan><tspan class="sb" dy="7.1">4</tspan><tspan dy="-7.1"> dark</tspan></text>
<path d="M275,56.2H315.6" stroke="#ff0000" stroke-width="1.7"/>
<text class="lg" x="321.1" y="62.6">g-C<tspan class="sb" dy="7.1">3</tspan><tspan dy="-7.1">N</tspan><tspan class="sb" dy="7.1">4</tspan><tspan dy="-7.1"> light-5 min</tspan></text>
<path d="M275,84.2H315.6" stroke="#0000ff" stroke-width="1.7"/>
<text class="lg" x="321.1" y="91.2">g-C<tspan class="sb" dy="7.1">3</tspan><tspan dy="-7.1">N</tspan><tspan class="sb" dy="7.1">4</tspan><tspan dy="-7.1"> light-10 min</tspan></text>
<path d="M275,112.2H315.6" stroke="#ff00ff" stroke-width="1.7"/>
<text class="lg" x="321.1" y="118.8">N<tspan class="sb" dy="7.1">D</tspan><tspan dy="-7.1">-</tspan>g-C<tspan class="sb" dy="7.1">3</tspan><tspan dy="-7.1">N</tspan><tspan class="sb" dy="7.1">4</tspan><tspan dy="-7.1"> dark</tspan></text>
<path d="M275,140.2H315.6" stroke="#008000" stroke-width="1.7"/>
<text class="lg" x="321.1" y="146.4">N<tspan class="sb" dy="7.1">D</tspan><tspan dy="-7.1">-</tspan>g-C<tspan class="sb" dy="7.1">3</tspan><tspan dy="-7.1">N</tspan><tspan class="sb" dy="7.1">4</tspan><tspan dy="-7.1"> light-5 min</tspan></text>
<path d="M275,168.2H315.6" stroke="#000080" stroke-width="1.7"/>
<text class="lg" x="321.1" y="173.5">N<tspan class="sb" dy="7.1">D</tspan><tspan dy="-7.1">-</tspan>g-C<tspan class="sb" dy="7.1">3</tspan><tspan dy="-7.1">N</tspan><tspan class="sb" dy="7.1">4</tspan><tspan dy="-7.1"> light-10 min</tspan></text>
</svg>
</body></html>
